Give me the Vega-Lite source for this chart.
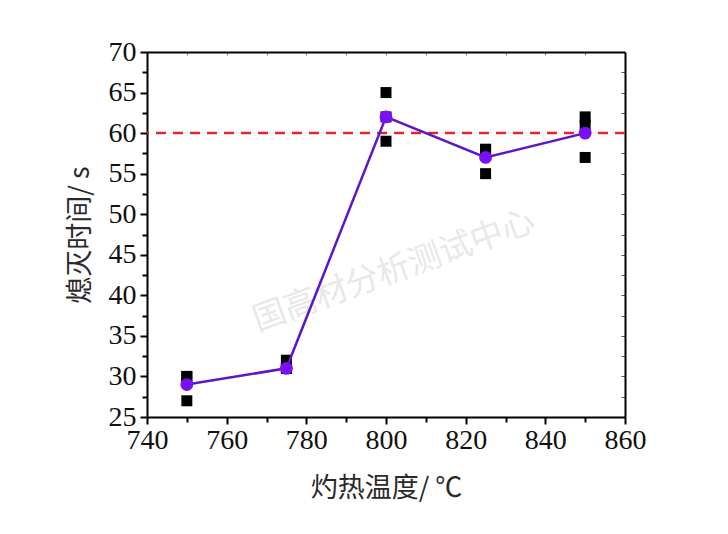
{
  "$schema": "https://vega.github.io/schema/vega-lite/v6.json",
  "width": 478,
  "height": 365,
  "autosize": {"type": "none"},
  "padding": {"left": 147, "top": 52, "right": 103, "bottom": 117},
  "background": "white",
  "datasets": {
    "runs": [
      {"temp": 750, "time": 30},
      {"temp": 750, "time": 30},
      {"temp": 750, "time": 27},
      {"temp": 775, "time": 32},
      {"temp": 775, "time": 31},
      {"temp": 775, "time": 31},
      {"temp": 800, "time": 65},
      {"temp": 800, "time": 62},
      {"temp": 800, "time": 59},
      {"temp": 825, "time": 58},
      {"temp": 825, "time": 58},
      {"temp": 825, "time": 55},
      {"temp": 850, "time": 62},
      {"temp": 850, "time": 61},
      {"temp": 850, "time": 57}
    ],
    "means": [
      {"temp": 750, "time": 29},
      {"temp": 775, "time": 31},
      {"temp": 800, "time": 62},
      {"temp": 825, "time": 57},
      {"temp": 850, "time": 60}
    ]
  },
  "layer": [
    {
      "data": {"values": [{"label": "国高材分析测试中心", "temp": 802, "time": 43}]},
      "mark": {"type": "text", "angle": 340, "font": "Noto Sans CJK SC", "fontSize": 33, "color": "#e8e8e8"},
      "encoding": {
        "x": {"field": "temp", "type": "quantitative", "scale": {"domain": [740, 860], "nice": false, "zero": false}, "axis": null},
        "y": {"field": "time", "type": "quantitative", "scale": {"domain": [25, 70], "nice": false, "zero": false}, "axis": null},
        "text": {"field": "label"}
      }
    },
    {
      "data": {"values": [{"limit": 60}]},
      "mark": {"type": "rule", "color": "#e3262e", "strokeWidth": 2.5, "strokeDash": [10, 7]},
      "encoding": {
        "y": {"field": "limit", "type": "quantitative", "scale": {"domain": [25, 70], "nice": false, "zero": false}, "axis": null}
      }
    },
    {
      "data": {"name": "runs"},
      "mark": {"type": "square", "size": 121, "color": "#000000", "opacity": 1},
      "encoding": {
        "x": {
          "field": "temp", "type": "quantitative",
          "scale": {"domain": [740, 860], "nice": false, "zero": false},
          "axis": {
            "orient": "bottom", "values": [740, 760, 780, 800, 820, 840, 860],
            "title": "灼热温度/ ℃", "titleFont": "Noto Sans CJK SC", "titleFontSize": 27,
            "titleFontWeight": "normal", "titleColor": "#2a2a2a", "titlePadding": 21,
            "labelFont": "Liberation Serif", "labelFontSize": 28, "labelColor": "#111111",
            "labelPadding": 2, "tickSize": 7, "tickWidth": 2, "tickColor": "#000000",
            "domainColor": "#000000", "domainWidth": 2, "grid": false, "labelFlush": false
          }
        },
        "y": {
          "field": "time", "type": "quantitative",
          "scale": {"domain": [25, 70], "nice": false, "zero": false},
          "axis": {
            "orient": "left", "values": [25, 30, 35, 40, 45, 50, 55, 60, 65, 70],
            "title": "熄灭时间/ s", "titleFont": "Noto Sans CJK SC", "titleFontSize": 27,
            "titleFontWeight": "normal", "titleColor": "#2a2a2a", "titlePadding": 14,
            "labelFont": "Liberation Serif", "labelFontSize": 28, "labelColor": "#111111",
            "labelPadding": 4, "tickSize": 7, "tickWidth": 2, "tickColor": "#000000",
            "domainColor": "#000000", "domainWidth": 2, "grid": false, "labelFlush": false
          }
        }
      }
    },
    {
      "data": {"name": "means"},
      "mark": {"type": "line", "color": "#5b17c4", "strokeWidth": 2.5},
      "encoding": {
        "x": {
          "field": "temp", "type": "quantitative",
          "scale": {"domain": [740, 860], "nice": false, "zero": false},
          "axis": {
            "orient": "bottom", "values": [750, 770, 790, 810, 830, 850],
            "labels": false, "title": null, "domain": false, "grid": false,
            "tickSize": 5, "tickWidth": 2, "tickColor": "#000000"
          }
        },
        "y": {
          "field": "time", "type": "quantitative",
          "scale": {"domain": [25, 70], "nice": false, "zero": false},
          "axis": {
            "orient": "left", "values": [27.5, 32.5, 37.5, 42.5, 47.5, 52.5, 57.5, 62.5, 67.5],
            "labels": false, "title": null, "domain": false, "grid": false,
            "tickSize": 5, "tickWidth": 2, "tickColor": "#000000"
          }
        }
      }
    },
    {
      "data": {"name": "means"},
      "mark": {"type": "circle", "size": 165, "color": "#7a10f5", "opacity": 1},
      "encoding": {
        "x": {
          "field": "temp", "type": "quantitative",
          "scale": {"domain": [740, 860], "nice": false, "zero": false},
          "axis": {
            "orient": "top", "values": [750, 760, 770, 780, 790, 800, 810, 820, 830, 840, 850],
            "labels": false, "title": null, "grid": false,
            "tickSize": -3, "tickWidth": 1, "tickColor": "#777777",
            "domainColor": "#000000", "domainWidth": 2
          }
        },
        "y": {
          "field": "time", "type": "quantitative",
          "scale": {"domain": [25, 70], "nice": false, "zero": false},
          "axis": {
            "orient": "right", "values": [27.5, 30, 32.5, 35, 37.5, 40, 42.5, 45, 47.5, 50, 52.5, 55, 57.5, 60, 62.5, 65, 67.5],
            "labels": false, "title": null, "grid": false,
            "tickSize": -4, "tickWidth": 1, "tickColor": "#555555",
            "domainColor": "#000000", "domainWidth": 2
          }
        }
      }
    }
  ],
  "resolve": {
    "scale": {"x": "independent", "y": "independent"},
    "axis": {"x": "independent", "y": "independent"}
  },
  "config": {
    "view": {"stroke": null}
  }
}
